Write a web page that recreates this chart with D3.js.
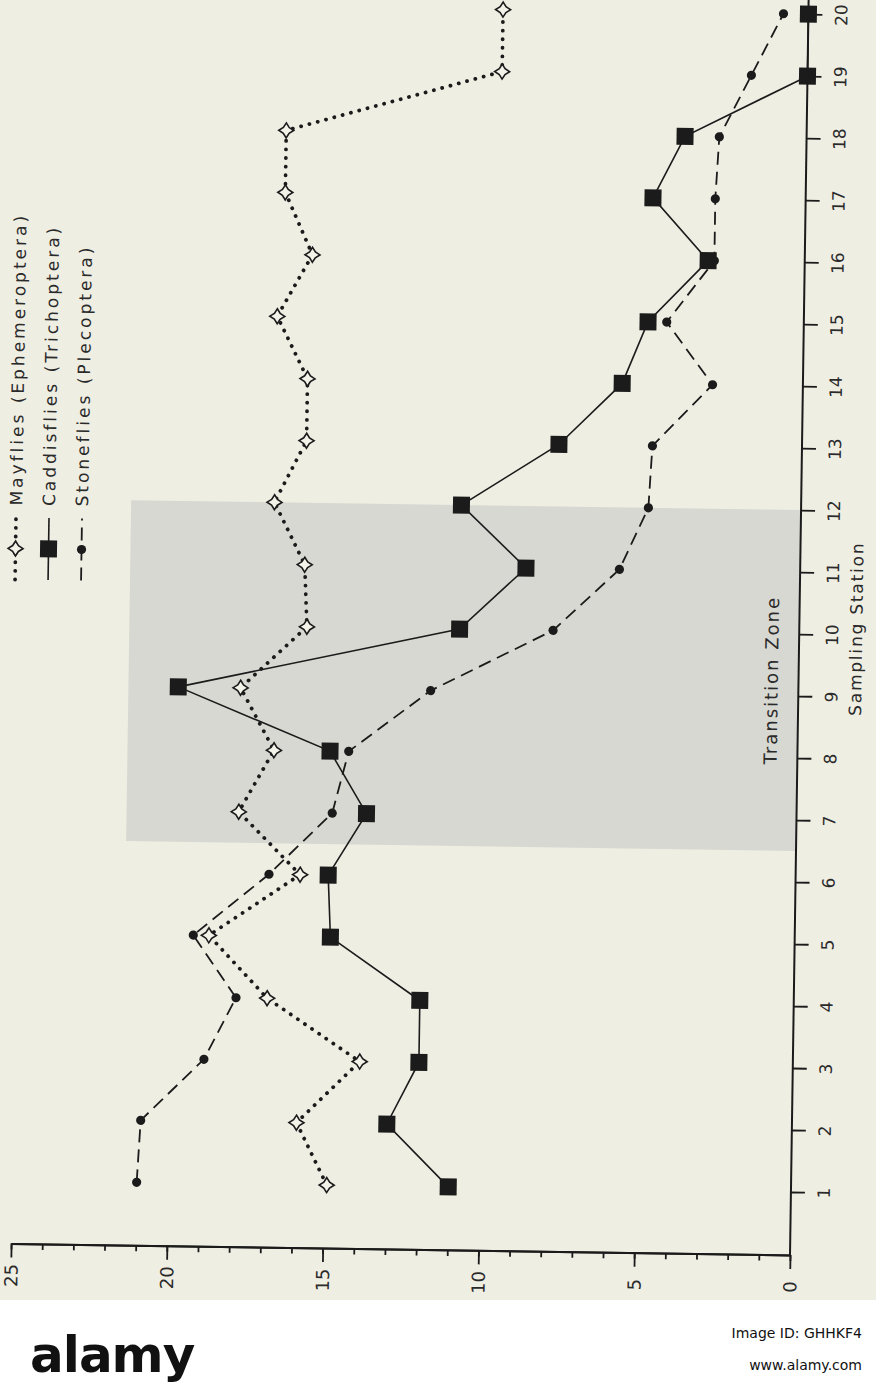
<!DOCTYPE html>
<html><head><meta charset="utf-8">
<script src="https://cdn.jsdelivr.net/npm/d3@7"></script>
<style>body{margin:0;background:#fff}svg{display:block}</style>
</head><body>
<script>
// ---- data ----
const stations = [1,2,3,4,5,6,7,8,9,10,11,12,13,14,15,16,17,18,19,20];
const mayflies = [14.9,15.9,13.9,16.9,18.8,15.9,17.9,16.8,17.9,15.8,15.9,16.9,15.9,15.9,16.9,15.8,16.7,16.7,9.8,9.8];
const caddisflies = [11.0,13.0,12.0,12.0,14.9,15.0,13.8,15.0,19.9,10.9,8.8,10.9,7.8,5.8,5.0,3.1,4.9,3.9,0,0];
const stoneflies = [21.0,20.9,18.9,17.9,19.3,16.9,14.9,14.4,11.8,7.9,5.8,4.9,4.8,2.9,4.4,2.9,2.9,2.8,1.8,0.8];
const seriesNames = ["Mayflies (Ephemeroptera)","Caddisflies (Trichoptera)","Stoneflies (Plecoptera)"];
const valueTicks = [0,5,10,15,20,25];
const minorTicks = d3.range(0,26);
const transitionStations = [6.5,12.0];
const transitionHeight = 21.5;
const axisTitle = "Sampling Station";
const zoneLabel = "Transition Zone";

const W=876,H=1390;
const ink="#1b1b1b";
const font="'DejaVu Sans', sans-serif";
const svg=d3.select("body").append("svg").attr("width",W).attr("height",H);
svg.append("rect").attr("width",W).attr("height",1300).attr("fill","#efeee3");
svg.append("rect").attr("y",1300).attr("width",W).attr("height",90).attr("fill","#ffffff");

const cx=790, cy=1255;
const g=svg.append("g").attr("transform",`rotate(0.85,${cx},${cy})`);
const x=d3.scaleLinear().domain([0,25]).range([cx,11]);
const y=d3.scaleLinear().domain([1,20]).range([1192,14]);

// transition zone
g.append("rect")
  .attr("x",x(transitionHeight)).attr("width",x(0)-x(transitionHeight))
  .attr("y",y(transitionStations[1])).attr("height",y(transitionStations[0])-y(transitionStations[1]))
  .attr("fill","#d8d8d2");

// value axis (minor + major)
const axMinor=g.append("g").attr("transform",`translate(0,${cy})`)
  .call(d3.axisBottom(x).tickValues(minorTicks).tickSize(6).tickSizeOuter(0).tickFormat(""));
const axMajor=g.append("g").attr("transform",`translate(0,${cy})`)
  .call(d3.axisBottom(x).tickValues(valueTicks).tickSize(14).tickSizeOuter(0).tickFormat(d3.format("d")));
[axMinor,axMajor].forEach(a=>{
  a.select(".domain").attr("stroke",ink).attr("stroke-width",2);
  a.selectAll(".tick line").attr("stroke",ink).attr("stroke-width",1.8);
});
axMajor.selectAll(".tick text")
  .attr("y",0).attr("dy","0.35em")
  .attr("transform","translate(0,32) rotate(-90)")
  .attr("text-anchor","middle")
  .attr("font-family",font).attr("font-size",18).attr("fill","#2a2a2a");

// station axis
g.append("line").attr("x1",cx).attr("x2",cx).attr("y1",cy).attr("y2",-20)
  .attr("stroke",ink).attr("stroke-width",2);
const axS=g.append("g").attr("transform",`translate(${cx},0)`)
  .call(d3.axisRight(y).tickValues(stations).tickSize(14).tickSizeOuter(0).tickFormat(d3.format("d")));
axS.select(".domain").remove();
axS.selectAll(".tick line").attr("stroke",ink).attr("stroke-width",1.8);
axS.selectAll(".tick text")
  .attr("x",0).attr("dy","0.35em")
  .attr("transform","translate(33,0) rotate(-90)")
  .attr("text-anchor","middle")
  .attr("font-family",font).attr("font-size",17).attr("fill","#2a2a2a");

g.append("text").attr("transform",`translate(${cx+57},${y(10.1)}) rotate(-90)`)
  .attr("text-anchor","middle").attr("dy","0.35em")
  .attr("font-family",font).attr("font-size",17).attr("letter-spacing",1.8).attr("fill","#2a2a2a")
  .text(axisTitle);
g.append("text").attr("transform",`translate(${cx-27},${y(9.25)}) rotate(-90)`)
  .attr("text-anchor","middle").attr("dy","0.35em")
  .attr("font-family",font).attr("font-size",18).attr("letter-spacing",2).attr("fill","#2a2a2a")
  .text(zoneLabel);

// series
const mk=arr=>stations.map((s,i)=>({s,v:arr[i]}));
const line=d3.line().x(d=>x(d.v)).y(d=>y(d.s));
const starPath="M0,-7.5L2.9,-2.9L7.5,0L2.9,2.9L0,7.5L-2.9,2.9L-7.5,0L-2.9,-2.9Z";

const styles=[
  {data:mk(mayflies),dash:"0.1 8.5",w:3.8,cap:"round"},
  {data:mk(caddisflies),dash:null,w:1.6,cap:"butt"},
  {data:mk(stoneflies),dash:"13 7",w:1.8,cap:"butt"}
];
styles.forEach(st=>{
  g.append("path").datum(st.data).attr("d",line).attr("fill","none")
    .attr("stroke",ink).attr("stroke-width",st.w).attr("stroke-linecap",st.cap)
    .attr("stroke-dasharray",st.dash);
});
function drawMarker(sel,type){
  if(type===0) sel.append("path").attr("d",starPath).attr("fill","#f4f3ea").attr("stroke",ink).attr("stroke-width",1.6);
  else if(type===1) sel.append("rect").attr("x",-8.5).attr("y",-8.5).attr("width",17).attr("height",17).attr("fill",ink);
  else sel.append("circle").attr("r",4.6).attr("fill",ink);
}
styles.forEach((st,k)=>{
  g.selectAll(null).data(st.data).join("g")
    .attr("transform",d=>`translate(${x(d.v)},${y(d.s)})`)
    .each(function(){drawMarker(d3.select(this),k);});
});

// legend
const lg=svg.append("g").attr("transform","rotate(0.85,50,450)");
const lx=[17,50,83], ly=580;
seriesNames.forEach((name,k)=>{
  const e=lg.append("g").attr("transform",`translate(${lx[k]},${ly}) rotate(-90)`);
  e.append("line").attr("x1",0).attr("x2",62).attr("y1",0).attr("y2",0)
    .attr("stroke",ink).attr("stroke-width",styles[k].w).attr("stroke-linecap",styles[k].cap)
    .attr("stroke-dasharray",styles[k].dash);
  const m=e.append("g").attr("transform","translate(31,0)");
  drawMarker(m,k);
  e.append("text").attr("x",74).attr("dy","0.35em")
    .attr("font-family",font).attr("font-size",17).attr("letter-spacing",3).attr("fill","#2a2a2a")
    .text(name);
});

// footer strip
svg.append("text").attr("x",30).attr("y",1372).attr("font-family",font).attr("font-weight","bold")
  .attr("font-size",50).attr("letter-spacing",-1).attr("fill","#111").text("alamy");
svg.append("text").attr("x",862).attr("y",1338).attr("text-anchor","end").attr("font-family",font)
  .attr("font-size",14).attr("fill","#111").text("Image ID: GHHKF4");
svg.append("text").attr("x",862).attr("y",1370).attr("text-anchor","end").attr("font-family",font)
  .attr("font-size",14).attr("fill","#111").text("www.alamy.com");
</script>
</body></html>
